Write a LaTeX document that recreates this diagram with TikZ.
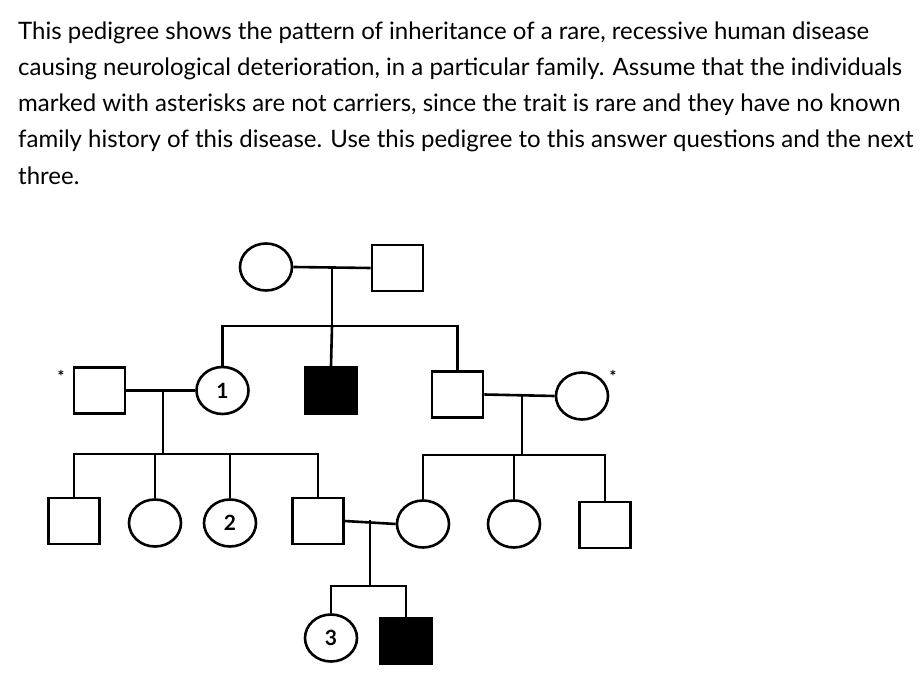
\documentclass[tikz,border=0pt]{standalone}
\usepackage{fontspec}
\setmainfont{Lato}
\usetikzlibrary{shapes.geometric}
\begin{document}
\begin{tikzpicture}[x=1pt,y=-1pt,
  male/.style={draw,line width=2.6pt,minimum width=51pt,minimum height=46pt,inner sep=0pt,rectangle},
  female/.style={draw,line width=2.6pt,ellipse,minimum width=52pt,minimum height=47pt,inner sep=0pt,font=\fontsize{21}{21}\selectfont\bfseries},
  affected/.style={fill=black},
  link/.style={line width=2.6pt},
  txt/.style={anchor=base west,inner sep=0pt,font=\fontsize{24}{24}\selectfont},
  star/.style={inner sep=0pt,font=\fontsize{16}{16}\selectfont\bfseries}]
\useasboundingbox (0,0) rectangle (922,698);
\node[txt] (t1) at (18,40) {This pedigree shows the pattern of inheritance of a rare, recessive human disease};
\node[txt] (t2) at (18,76) {causing neurological deterioration, in a particular family. Assume that the individuals};
\node[txt] (t3) at (18,112) {marked with asterisks are not carriers, since the trait is rare and they have no known};
\node[txt] (t4) at (18,148) {family history of this disease. Use this pedigree to this answer questions and the next};
\node[txt] (t5) at (18,185) {three.};
% Gen I
\node[female] (gm) at (266,267) {};
\node[male] (gf) at (397.5,268) {};
% Gen II
\node[male] (h1) at (99.5,390.5) {};
\node[star] (s1) at (61,376) {*};
\node[female] (p1) at (222.5,390.5) {1};
\node[male,affected] (a1) at (331,390.5) {};
\node[male] (b1) at (457.5,394.5) {};
\node[female] (w1) at (582,396) {};
\node[star] (s2) at (613,376) {*};
% Gen III
\node[male] (c1) at (74,521) {};
\node[female] (c2) at (155,523) {};
\node[female] (c3) at (230,523) {2};
\node[male] (c4) at (318,521) {};
\node[female] (d1) at (423,524) {};
\node[female] (d2) at (514,524) {};
\node[male] (d3) at (605,525) {};
% Gen IV
\node[female] (e1) at (331,638) {3};
\node[male,affected] (e2) at (406,641) {};
% coordinates
\coordinate (m1) at (332,267);
\coordinate (j1) at (332,326);
\coordinate (m2) at (163,390.5);
\coordinate (j2) at (163,454);
\coordinate (m3) at (522,395);
\coordinate (j3) at (522,455);
\coordinate (m4) at (370,520);
\coordinate (j4) at (370,586);
% lines
\draw[link] (gm.east) -- (gf.west);
\draw[link] (m1) -- (j1);
\draw[link] (p1.north) |- (j1) -| (b1.north);
\draw[link] (j1) -- (a1.north);
\draw[link] (h1.east) -- (p1.west);
\draw[link] (m2) -- (j2);
\draw[link] (c1.north) |- (j2) -| (c4.north);
\draw[link] (j2 -| c2.north) -- (c2.north);
\draw[link] (j2 -| c3.north) -- (c3.north);
\draw[link] (b1.east) -- (w1.west);
\draw[link] (m3) -- (j3);
\draw[link] (d1.north) |- (j3) -| (d3.north);
\draw[link] (j3 -| d2.north) -- (d2.north);
\draw[link] (c4.east) -- (d1.west);
\draw[link] (m4) -- (j4);
\draw[link] (e1.north) |- (j4) -| (e2.north);
\end{tikzpicture}
\end{document}
